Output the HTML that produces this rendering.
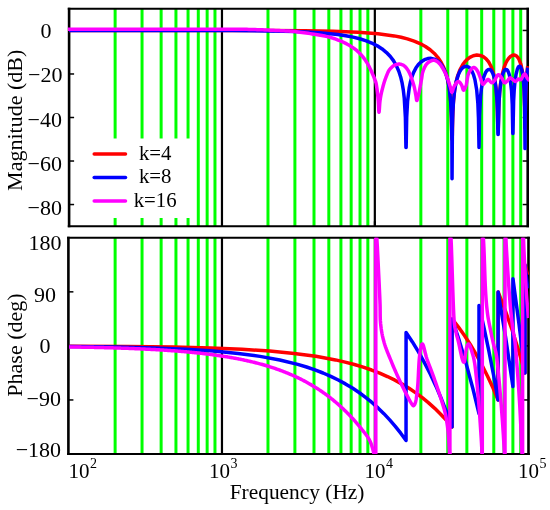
<!DOCTYPE html><html><head><meta charset="utf-8"><style>html,body{margin:0;padding:0;background:#fff}svg{display:block}</style></head><body>
<svg width="550" height="510" viewBox="0 0 550 510">
<rect width="550" height="510" fill="#fff"/>
<defs><clipPath id="c1"><rect x="67.89999999999999" y="8.7" width="461.00" height="217.60"/></clipPath><clipPath id="c2"><rect x="67.89999999999999" y="237.8" width="461.00" height="216.20"/></clipPath></defs>
<line x1="115.12" y1="8.7" x2="115.12" y2="138.5" stroke="#00ff00" stroke-width="3.0"/>
<line x1="115.12" y1="218" x2="115.12" y2="226.3" stroke="#00ff00" stroke-width="3.0"/>
<line x1="142.04" y1="8.7" x2="142.04" y2="138.5" stroke="#00ff00" stroke-width="3.0"/>
<line x1="142.04" y1="218" x2="142.04" y2="226.3" stroke="#00ff00" stroke-width="3.0"/>
<line x1="161.13" y1="8.7" x2="161.13" y2="138.5" stroke="#00ff00" stroke-width="3.0"/>
<line x1="161.13" y1="218" x2="161.13" y2="226.3" stroke="#00ff00" stroke-width="3.0"/>
<line x1="175.95" y1="8.7" x2="175.95" y2="138.5" stroke="#00ff00" stroke-width="3.0"/>
<line x1="175.95" y1="218" x2="175.95" y2="226.3" stroke="#00ff00" stroke-width="3.0"/>
<line x1="188.05" y1="8.7" x2="188.05" y2="138.5" stroke="#00ff00" stroke-width="3.0"/>
<line x1="188.05" y1="218" x2="188.05" y2="226.3" stroke="#00ff00" stroke-width="3.0"/>
<line x1="198.29" y1="8.7" x2="198.29" y2="226.3" stroke="#00ff00" stroke-width="3.0"/>
<line x1="207.15" y1="8.7" x2="207.15" y2="226.3" stroke="#00ff00" stroke-width="3.0"/>
<line x1="214.97" y1="8.7" x2="214.97" y2="226.3" stroke="#00ff00" stroke-width="3.0"/>
<line x1="221.97" y1="8.7" x2="221.97" y2="226.3" stroke="#000" stroke-width="2.2"/>
<line x1="267.98" y1="8.7" x2="267.98" y2="226.3" stroke="#00ff00" stroke-width="3.0"/>
<line x1="294.90" y1="8.7" x2="294.90" y2="226.3" stroke="#00ff00" stroke-width="3.0"/>
<line x1="314.00" y1="8.7" x2="314.00" y2="226.3" stroke="#00ff00" stroke-width="3.0"/>
<line x1="328.82" y1="8.7" x2="328.82" y2="226.3" stroke="#00ff00" stroke-width="3.0"/>
<line x1="340.92" y1="8.7" x2="340.92" y2="226.3" stroke="#00ff00" stroke-width="3.0"/>
<line x1="351.15" y1="8.7" x2="351.15" y2="226.3" stroke="#00ff00" stroke-width="3.0"/>
<line x1="360.02" y1="8.7" x2="360.02" y2="226.3" stroke="#00ff00" stroke-width="3.0"/>
<line x1="367.84" y1="8.7" x2="367.84" y2="226.3" stroke="#00ff00" stroke-width="3.0"/>
<line x1="374.83" y1="8.7" x2="374.83" y2="226.3" stroke="#000" stroke-width="2.2"/>
<line x1="420.85" y1="8.7" x2="420.85" y2="226.3" stroke="#00ff00" stroke-width="3.0"/>
<line x1="447.77" y1="8.7" x2="447.77" y2="226.3" stroke="#00ff00" stroke-width="3.0"/>
<line x1="466.87" y1="8.7" x2="466.87" y2="226.3" stroke="#00ff00" stroke-width="3.0"/>
<line x1="481.68" y1="8.7" x2="481.68" y2="226.3" stroke="#00ff00" stroke-width="3.0"/>
<line x1="493.79" y1="8.7" x2="493.79" y2="226.3" stroke="#00ff00" stroke-width="3.0"/>
<line x1="504.02" y1="8.7" x2="504.02" y2="226.3" stroke="#00ff00" stroke-width="3.0"/>
<line x1="512.89" y1="8.7" x2="512.89" y2="226.3" stroke="#00ff00" stroke-width="3.0"/>
<line x1="520.71" y1="8.7" x2="520.71" y2="226.3" stroke="#00ff00" stroke-width="3.0"/>
<line x1="115.12" y1="237.8" x2="115.12" y2="454.0" stroke="#00ff00" stroke-width="3.0"/>
<line x1="142.04" y1="237.8" x2="142.04" y2="454.0" stroke="#00ff00" stroke-width="3.0"/>
<line x1="161.13" y1="237.8" x2="161.13" y2="454.0" stroke="#00ff00" stroke-width="3.0"/>
<line x1="175.95" y1="237.8" x2="175.95" y2="454.0" stroke="#00ff00" stroke-width="3.0"/>
<line x1="188.05" y1="237.8" x2="188.05" y2="454.0" stroke="#00ff00" stroke-width="3.0"/>
<line x1="198.29" y1="237.8" x2="198.29" y2="454.0" stroke="#00ff00" stroke-width="3.0"/>
<line x1="207.15" y1="237.8" x2="207.15" y2="454.0" stroke="#00ff00" stroke-width="3.0"/>
<line x1="214.97" y1="237.8" x2="214.97" y2="454.0" stroke="#00ff00" stroke-width="3.0"/>
<line x1="221.97" y1="237.8" x2="221.97" y2="454.0" stroke="#000" stroke-width="2.2"/>
<line x1="267.98" y1="237.8" x2="267.98" y2="454.0" stroke="#00ff00" stroke-width="3.0"/>
<line x1="294.90" y1="237.8" x2="294.90" y2="454.0" stroke="#00ff00" stroke-width="3.0"/>
<line x1="314.00" y1="237.8" x2="314.00" y2="454.0" stroke="#00ff00" stroke-width="3.0"/>
<line x1="328.82" y1="237.8" x2="328.82" y2="454.0" stroke="#00ff00" stroke-width="3.0"/>
<line x1="340.92" y1="237.8" x2="340.92" y2="454.0" stroke="#00ff00" stroke-width="3.0"/>
<line x1="351.15" y1="237.8" x2="351.15" y2="454.0" stroke="#00ff00" stroke-width="3.0"/>
<line x1="360.02" y1="237.8" x2="360.02" y2="454.0" stroke="#00ff00" stroke-width="3.0"/>
<line x1="367.84" y1="237.8" x2="367.84" y2="454.0" stroke="#00ff00" stroke-width="3.0"/>
<line x1="374.83" y1="237.8" x2="374.83" y2="454.0" stroke="#000" stroke-width="2.2"/>
<line x1="420.85" y1="237.8" x2="420.85" y2="454.0" stroke="#00ff00" stroke-width="3.0"/>
<line x1="447.77" y1="237.8" x2="447.77" y2="454.0" stroke="#00ff00" stroke-width="3.0"/>
<line x1="466.87" y1="237.8" x2="466.87" y2="454.0" stroke="#00ff00" stroke-width="3.0"/>
<line x1="481.68" y1="237.8" x2="481.68" y2="454.0" stroke="#00ff00" stroke-width="3.0"/>
<line x1="493.79" y1="237.8" x2="493.79" y2="454.0" stroke="#00ff00" stroke-width="3.0"/>
<line x1="504.02" y1="237.8" x2="504.02" y2="454.0" stroke="#00ff00" stroke-width="3.0"/>
<line x1="512.89" y1="237.8" x2="512.89" y2="454.0" stroke="#00ff00" stroke-width="3.0"/>
<line x1="520.71" y1="237.8" x2="520.71" y2="454.0" stroke="#00ff00" stroke-width="3.0"/>
<path d="M67.80 8.7H529.00M67.80 226.3H529.00" stroke="#000" stroke-width="2.0" fill="none"/>
<path d="M69.1 7.699999999999999V227.3M527.7 7.699999999999999V227.3" stroke="#000" stroke-width="2.6" fill="none"/>
<path d="M67.10 237.8H529.80M67.10 454.0H529.80" stroke="#000" stroke-width="2.0" fill="none"/>
<path d="M68.4 236.8V455.0M528.5 236.8V455.0" stroke="#000" stroke-width="2.6" fill="none"/>
<line x1="69.1" y1="30.46" x2="74.1" y2="30.46" stroke="#000" stroke-width="1.5"/>
<line x1="527.7" y1="30.46" x2="522.7" y2="30.46" stroke="#000" stroke-width="1.5"/>
<line x1="69.1" y1="73.98" x2="74.1" y2="73.98" stroke="#000" stroke-width="1.5"/>
<line x1="527.7" y1="73.98" x2="522.7" y2="73.98" stroke="#000" stroke-width="1.5"/>
<line x1="69.1" y1="117.50" x2="74.1" y2="117.50" stroke="#000" stroke-width="1.5"/>
<line x1="527.7" y1="117.50" x2="522.7" y2="117.50" stroke="#000" stroke-width="1.5"/>
<line x1="69.1" y1="161.02" x2="74.1" y2="161.02" stroke="#000" stroke-width="1.5"/>
<line x1="527.7" y1="161.02" x2="522.7" y2="161.02" stroke="#000" stroke-width="1.5"/>
<line x1="69.1" y1="204.54" x2="74.1" y2="204.54" stroke="#000" stroke-width="1.5"/>
<line x1="527.7" y1="204.54" x2="522.7" y2="204.54" stroke="#000" stroke-width="1.5"/>
<line x1="68.4" y1="291.85" x2="73.4" y2="291.85" stroke="#000" stroke-width="1.5"/>
<line x1="528.5" y1="291.85" x2="523.5" y2="291.85" stroke="#000" stroke-width="1.5"/>
<line x1="68.4" y1="345.90" x2="73.4" y2="345.90" stroke="#000" stroke-width="1.5"/>
<line x1="528.5" y1="345.90" x2="523.5" y2="345.90" stroke="#000" stroke-width="1.5"/>
<line x1="68.4" y1="399.95" x2="73.4" y2="399.95" stroke="#000" stroke-width="1.5"/>
<line x1="528.5" y1="399.95" x2="523.5" y2="399.95" stroke="#000" stroke-width="1.5"/>
<line x1="221.97" y1="226.3" x2="221.97" y2="221.3" stroke="#000" stroke-width="2"/>
<line x1="374.83" y1="226.3" x2="374.83" y2="221.3" stroke="#000" stroke-width="2"/>
<line x1="221.97" y1="454.0" x2="221.97" y2="449.0" stroke="#000" stroke-width="2"/>
<line x1="374.83" y1="454.0" x2="374.83" y2="449.0" stroke="#000" stroke-width="2"/>
<polyline points="69.10,30.46 264.50,30.56 304.55,30.80 333.07,31.28 358.30,32.23 378.02,33.72 394.15,35.90 401.11,37.29 407.37,38.88 414.10,41.06 420.06,43.56 425.42,46.45 430.15,49.73 434.36,53.46 437.95,57.56 441.09,62.22 443.69,67.30 445.75,72.67 447.43,78.58 448.81,85.31 449.88,92.93 450.64,101.15 451.25,111.93 451.87,139.26 452.17,139.26 452.25,138.80 452.63,118.25 453.32,103.46 454.24,93.24 455.46,84.97 457.37,76.81 459.82,70.08 462.95,64.37 464.71,62.02 466.62,59.96 469.83,57.42 473.27,55.76 476.79,55.07 480.15,55.39 483.28,56.68 486.11,58.87 488.64,61.95 490.85,65.97 492.53,70.31 493.91,75.24 495.06,81.00 495.97,87.63 497.20,103.92 497.89,128.38 498.27,128.38 498.80,107.03 499.57,93.44 500.64,83.20 502.09,74.75 504.31,66.73 505.68,63.29 507.14,60.49 508.74,58.16 510.42,56.45 512.11,55.42 513.79,55.06 515.16,55.29 516.54,56.08 517.84,57.44 518.99,59.27 520.90,64.28 522.43,71.52 523.42,79.84 524.11,90.11 524.64,107.26 524.87,127.44 525.10,128.38 525.33,107.11 525.79,90.62 526.55,77.38 527.70,66.22" fill="none" stroke="#ff0000" stroke-width="3.5" stroke-linejoin="round" clip-path="url(#c1)"/>
<polyline points="69.10,346.15 127.89,346.51 173.37,347.12 210.60,348.03 242.02,349.33 269.77,351.11 294.16,353.42 315.87,356.32 335.51,359.91 345.15,362.10 354.40,364.52 363.19,367.16 371.60,370.03 379.70,373.16 387.42,376.53 394.91,380.18 402.10,384.10 409.06,388.32 415.78,392.85 422.28,397.68 428.63,402.87 434.74,408.36 440.70,414.23 446.44,420.40 452.05,426.98 452.09,318.92 458.44,327.06 464.63,335.79 470.59,345.00 476.40,354.80 482.06,365.21 487.57,376.22 492.92,387.84 498.07,399.95 498.12,291.96 505.22,310.30 512.03,329.79 518.60,350.62 524.99,372.93 525.02,264.95 527.70,274.96" fill="none" stroke="#ff0000" stroke-width="3.5" stroke-linejoin="round" clip-path="url(#c2)"/>
<polyline points="69.10,30.46 232.39,30.62 269.16,30.96 295.92,31.58 319.31,32.76 337.81,34.56 345.76,35.74 353.02,37.14 359.60,38.76 365.56,40.61 371.75,43.05 377.25,45.82 382.15,48.97 386.50,52.53 390.33,56.52 393.61,60.92 396.44,65.84 398.81,71.28 400.65,76.92 402.10,82.96 403.32,90.10 404.24,97.98 405.39,117.33 405.92,147.53 406.15,147.53 406.69,117.51 407.60,101.00 409.21,87.93 410.36,82.30 411.73,77.35 413.64,72.33 415.86,68.10 418.38,64.59 421.29,61.74 424.50,59.67 427.78,58.55 431.15,58.35 434.36,59.10 437.03,60.52 439.48,62.60 441.77,65.42 443.76,68.79 445.52,72.83 446.97,77.29 448.20,82.32 449.27,88.37 450.64,101.20 451.48,118.34 451.87,139.30 452.05,178.86 452.40,127.83 452.86,111.95 453.55,100.38 454.69,89.84 456.22,81.63 458.29,74.87 459.51,72.13 460.81,69.92 462.72,67.70 464.71,66.47 466.70,66.25 468.68,67.06 470.52,68.86 472.20,71.63 473.65,75.21 474.95,79.82 476.71,90.05 477.86,103.18 478.47,118.14 479.00,147.53 479.54,115.92 480.53,96.90 481.37,88.96 482.44,82.41 483.82,76.88 485.43,72.79 486.65,70.86 487.95,69.70 489.25,69.40 490.55,69.97 491.77,71.40 492.84,73.50 493.83,76.38 494.75,80.16 495.97,87.99 496.89,98.42 497.50,112.04 497.89,133.11 497.96,134.47 498.19,134.47 499.03,101.93 499.80,90.99 500.87,82.28 502.40,75.13 503.31,72.49 504.31,70.60 505.30,69.60 506.37,69.45 507.37,70.20 508.28,71.77 509.28,74.69 510.19,78.96 511.57,91.09 512.26,104.61 512.79,133.38 512.95,133.38 513.63,100.80 514.17,90.59 514.93,81.91 516.00,74.56 517.38,69.15 518.14,67.42 518.91,66.46 519.67,66.22 520.44,66.74 521.66,69.45 522.65,74.09 523.42,80.30 524.03,88.78 524.64,107.28 525.02,148.62 525.18,118.51 525.64,94.83 526.48,78.81 527.70,67.71" fill="none" stroke="#0000ff" stroke-width="3.5" stroke-linejoin="round" clip-path="url(#c1)"/>
<polyline points="69.10,346.49 115.96,347.10 153.88,348.02 185.91,349.33 213.51,351.10 238.12,353.44 260.06,356.39 279.79,360.02 297.75,364.41 306.54,367.03 314.95,369.89 323.05,373.00 330.77,376.34 338.27,379.98 345.45,383.88 352.41,388.07 359.06,392.52 365.56,397.31 371.90,402.46 378.02,407.92 383.90,413.67 389.71,419.87 395.30,426.36 400.72,433.21 406.04,440.49 406.07,332.44 412.42,341.93 418.61,352.11 424.57,362.86 430.38,374.29 436.04,386.43 441.55,399.28 446.90,412.84 452.05,426.98 452.09,318.99 459.20,340.39 466.01,363.12 472.58,387.42 478.97,413.46 479.00,305.50 483.97,327.56 488.79,350.58 493.45,374.52 498.07,399.95 498.12,292.10 505.61,337.33 512.89,386.44 512.95,278.77 519.06,324.44 524.99,372.93 525.02,265.12 527.70,288.47" fill="none" stroke="#0000ff" stroke-width="3.5" stroke-linejoin="round" clip-path="url(#c2)"/>
<polyline points="67.10,29.30 74.57,29.30 82.01,29.30 89.42,29.30 96.83,29.30 104.26,29.30 111.70,29.30 119.19,29.30 126.73,29.30 134.34,29.30 142.04,29.30 150.07,29.30 158.55,29.30 167.32,29.30 176.19,29.30 185.00,29.29 193.57,29.29 201.73,29.29 209.29,29.29 216.10,29.30 221.97,29.30 226.84,29.30 230.87,29.30 234.18,29.30 236.93,29.30 239.23,29.31 241.23,29.31 243.05,29.32 244.85,29.34 246.75,29.37 248.89,29.40 251.12,29.45 253.23,29.50 255.24,29.56 257.17,29.63 259.03,29.71 260.84,29.78 262.62,29.86 264.40,29.94 266.18,30.02 267.98,30.10 269.83,30.18 271.70,30.26 273.58,30.34 275.45,30.42 277.29,30.50 279.09,30.58 280.81,30.66 282.45,30.74 283.99,30.82 285.40,30.90 286.63,30.97 287.66,31.02 288.53,31.06 289.31,31.10 290.05,31.14 290.79,31.19 291.60,31.25 292.51,31.34 293.60,31.45 294.90,31.60 296.44,31.78 298.18,32.00 300.06,32.23 302.06,32.49 304.12,32.77 306.21,33.05 308.28,33.35 310.30,33.64 312.22,33.92 314.00,34.20 315.67,34.47 317.28,34.72 318.85,34.98 320.37,35.24 321.85,35.50 323.29,35.77 324.71,36.05 326.10,36.35 327.46,36.66 328.82,37.00 330.14,37.36 331.44,37.73 332.71,38.12 333.94,38.53 335.15,38.94 336.34,39.37 337.51,39.82 338.66,40.27 339.80,40.73 340.92,41.20 342.03,41.68 343.11,42.16 344.17,42.65 345.21,43.15 346.24,43.67 347.25,44.20 348.24,44.74 349.22,45.31 350.19,45.89 351.15,46.50 352.10,47.12 353.03,47.75 353.95,48.39 354.85,49.04 355.74,49.72 356.61,50.42 357.48,51.16 358.33,51.93 359.18,52.74 360.02,53.60 360.85,54.50 361.66,55.42 362.47,56.37 363.26,57.36 364.05,58.39 364.82,59.45 365.59,60.56 366.34,61.72 367.09,62.93 367.84,64.20 368.59,65.57 369.37,67.08 370.16,68.69 370.94,70.36 371.71,72.04 372.44,73.72 373.14,75.34 373.78,76.86 374.35,78.26 374.83,79.50 375.23,80.54 375.54,81.41 375.78,82.15 375.97,82.80 376.11,83.39 376.23,83.98 376.33,84.59 376.43,85.27 376.55,86.06 376.70,87.00 376.87,88.08 377.03,89.26 377.20,90.52 377.36,91.84 377.52,93.21 377.67,94.59 377.81,95.99 377.95,97.36 378.08,98.71 378.20,100.00 378.31,101.36 378.40,102.87 378.49,104.46 378.56,106.06 378.63,107.61 378.70,109.04 378.77,110.29 378.84,111.27 378.92,111.93 379.00,112.20 379.09,112.02 379.18,111.41 379.27,110.47 379.36,109.28 379.46,107.89 379.55,106.41 379.66,104.90 379.76,103.44 379.88,102.12 380.00,101.00 380.13,100.04 380.26,99.13 380.39,98.25 380.53,97.41 380.68,96.58 380.83,95.77 380.98,94.96 381.15,94.16 381.32,93.34 381.50,92.50 381.69,91.64 381.90,90.75 382.12,89.86 382.35,88.96 382.58,88.06 382.82,87.18 383.05,86.33 383.27,85.51 383.49,84.73 383.70,84.00 383.89,83.34 384.07,82.73 384.23,82.18 384.40,81.66 384.56,81.16 384.72,80.67 384.89,80.17 385.08,79.65 385.28,79.10 385.50,78.50 385.75,77.84 386.01,77.12 386.30,76.37 386.60,75.60 386.90,74.82 387.21,74.05 387.52,73.31 387.82,72.61 388.12,71.97 388.40,71.40 388.67,70.91 388.93,70.47 389.18,70.09 389.42,69.74 389.67,69.43 389.92,69.13 390.17,68.85 390.43,68.58 390.71,68.30 391.00,68.00 391.30,67.69 391.60,67.39 391.90,67.09 392.21,66.80 392.53,66.51 392.86,66.24 393.22,65.98 393.59,65.73 393.98,65.51 394.40,65.30 394.85,65.10 395.34,64.91 395.85,64.72 396.38,64.54 396.93,64.38 397.49,64.25 398.05,64.15 398.61,64.09 399.16,64.07 399.70,64.10 400.23,64.17 400.77,64.28 401.31,64.41 401.85,64.58 402.39,64.79 402.92,65.04 403.45,65.33 403.98,65.67 404.49,66.06 405.00,66.50 405.50,66.99 405.99,67.53 406.47,68.11 406.95,68.74 407.43,69.41 407.89,70.13 408.35,70.90 408.81,71.72 409.26,72.58 409.70,73.50 410.14,74.50 410.59,75.59 411.04,76.75 411.48,77.98 411.92,79.23 412.34,80.50 412.74,81.76 413.12,83.00 413.48,84.18 413.80,85.30 414.09,86.37 414.35,87.44 414.59,88.49 414.80,89.53 414.99,90.54 415.17,91.52 415.34,92.46 415.50,93.36 415.65,94.21 415.80,95.00 415.94,95.77 416.06,96.54 416.17,97.29 416.26,98.00 416.35,98.66 416.43,99.26 416.52,99.76 416.60,100.17 416.70,100.45 416.80,100.60 416.91,100.58 417.03,100.40 417.15,100.08 417.27,99.66 417.39,99.16 417.52,98.61 417.64,98.04 417.76,97.48 417.88,96.95 418.00,96.50 418.11,96.13 418.21,95.82 418.30,95.55 418.38,95.29 418.47,95.01 418.57,94.68 418.68,94.28 418.80,93.79 418.94,93.17 419.10,92.40 419.29,91.44 419.51,90.29 419.76,88.99 420.01,87.59 420.28,86.13 420.55,84.65 420.81,83.20 421.06,81.81 421.29,80.53 421.50,79.40 421.67,78.41 421.80,77.51 421.91,76.68 422.01,75.91 422.10,75.18 422.20,74.48 422.32,73.78 422.47,73.08 422.66,72.36 422.90,71.60 423.18,70.79 423.50,69.95 423.84,69.10 424.20,68.23 424.59,67.38 425.01,66.54 425.45,65.74 425.91,64.99 426.40,64.31 426.90,63.70 427.44,63.15 428.03,62.64 428.65,62.17 429.30,61.74 429.96,61.36 430.63,61.03 431.30,60.75 431.96,60.54 432.60,60.38 433.20,60.30 433.78,60.28 434.35,60.34 434.90,60.45 435.45,60.63 435.99,60.86 436.52,61.14 437.05,61.47 437.57,61.84 438.08,62.25 438.60,62.70 439.11,63.20 439.63,63.76 440.14,64.38 440.64,65.04 441.14,65.75 441.63,66.49 442.11,67.25 442.59,68.03 443.05,68.81 443.50,69.60 443.94,70.40 444.38,71.24 444.80,72.10 445.22,72.98 445.63,73.88 446.02,74.78 446.41,75.69 446.78,76.60 447.15,77.51 447.50,78.40 447.84,79.30 448.17,80.24 448.49,81.19 448.81,82.14 449.11,83.09 449.39,84.02 449.67,84.92 449.93,85.77 450.17,86.57 450.40,87.30 450.60,88.00 450.78,88.69 450.94,89.37 451.08,90.02 451.21,90.61 451.34,91.14 451.46,91.58 451.60,91.91 451.74,92.12 451.90,92.20 452.07,92.11 452.24,91.85 452.41,91.45 452.58,90.95 452.76,90.36 452.94,89.73 453.14,89.08 453.34,88.44 453.56,87.83 453.80,87.30 454.06,86.79 454.34,86.25 454.64,85.69 454.95,85.13 455.27,84.57 455.59,84.04 455.91,83.55 456.22,83.10 456.52,82.71 456.80,82.40 457.06,82.15 457.32,81.96 457.56,81.80 457.80,81.70 458.03,81.63 458.26,81.61 458.49,81.62 458.72,81.68 458.96,81.77 459.20,81.90 459.45,82.08 459.70,82.31 459.96,82.59 460.22,82.91 460.48,83.26 460.74,83.64 460.99,84.05 461.24,84.46 461.47,84.88 461.70,85.30 461.91,85.77 462.11,86.34 462.30,86.97 462.47,87.62 462.65,88.27 462.83,88.87 463.00,89.40 463.19,89.82 463.39,90.10 463.60,90.20 463.83,90.13 464.07,89.93 464.32,89.62 464.58,89.20 464.84,88.70 465.11,88.12 465.37,87.48 465.62,86.78 465.87,86.05 466.10,85.30 466.31,84.47 466.51,83.52 466.70,82.47 466.88,81.36 467.06,80.21 467.24,79.06 467.43,77.94 467.63,76.86 467.85,75.88 468.10,75.00 468.37,74.21 468.66,73.47 468.97,72.77 469.30,72.11 469.63,71.50 469.97,70.93 470.31,70.41 470.65,69.93 470.98,69.49 471.30,69.10 471.61,68.75 471.92,68.44 472.23,68.17 472.54,67.94 472.85,67.76 473.16,67.62 473.47,67.54 473.78,67.50 474.09,67.52 474.40,67.60 474.72,67.74 475.04,67.95 475.37,68.23 475.70,68.55 476.03,68.92 476.36,69.34 476.68,69.78 477.00,70.24 477.30,70.72 477.60,71.20 477.88,71.71 478.16,72.25 478.43,72.82 478.69,73.43 478.94,74.05 479.20,74.69 479.45,75.34 479.70,76.00 479.95,76.65 480.20,77.30 480.45,77.99 480.70,78.76 480.95,79.58 481.19,80.41 481.44,81.22 481.68,82.00 481.93,82.71 482.18,83.31 482.44,83.79 482.70,84.10 482.97,84.24 483.24,84.22 483.52,84.08 483.80,83.84 484.09,83.52 484.37,83.16 484.66,82.78 484.94,82.41 485.22,82.07 485.50,81.80 485.77,81.55 486.03,81.25 486.29,80.94 486.54,80.62 486.80,80.31 487.06,80.02 487.33,79.79 487.60,79.61 487.89,79.51 488.20,79.50 488.53,79.62 488.88,79.88 489.24,80.23 489.62,80.65 490.00,81.10 490.38,81.55 490.76,81.97 491.12,82.32 491.47,82.58 491.80,82.70 492.10,82.71 492.38,82.64 492.64,82.52 492.90,82.33 493.14,82.10 493.39,81.82 493.64,81.51 493.91,81.16 494.19,80.79 494.50,80.40 494.83,79.93 495.18,79.35 495.54,78.68 495.91,77.97 496.29,77.24 496.68,76.55 497.07,75.92 497.45,75.40 497.83,75.01 498.20,74.80 498.57,74.77 498.94,74.89 499.32,75.12 499.69,75.46 500.06,75.87 500.43,76.33 500.79,76.82 501.14,77.31 501.48,77.77 501.80,78.20 502.11,78.63 502.40,79.13 502.67,79.67 502.94,80.22 503.20,80.78 503.46,81.30 503.71,81.78 503.97,82.19 504.23,82.50 504.50,82.70 504.78,82.78 505.06,82.76 505.34,82.66 505.62,82.49 505.90,82.27 506.18,82.01 506.46,81.73 506.74,81.44 507.02,81.16 507.30,80.90 507.57,80.63 507.85,80.30 508.12,79.94 508.39,79.57 508.66,79.19 508.92,78.83 509.19,78.50 509.46,78.22 509.73,78.02 510.00,77.90 510.27,77.87 510.54,77.92 510.81,78.03 511.08,78.19 511.34,78.39 511.61,78.62 511.88,78.85 512.15,79.09 512.43,79.31 512.70,79.50 512.98,79.70 513.26,79.93 513.54,80.18 513.82,80.44 514.10,80.69 514.38,80.93 514.66,81.13 514.94,81.28 515.22,81.38 515.50,81.40 515.77,81.33 516.05,81.16 516.32,80.93 516.59,80.65 516.86,80.34 517.12,80.02 517.39,79.72 517.66,79.45 517.93,79.24 518.20,79.10 518.47,79.06 518.73,79.12 518.98,79.24 519.24,79.39 519.49,79.56 519.76,79.70 520.02,79.81 520.30,79.85 520.59,79.78 520.90,79.60 521.23,79.24 521.58,78.71 521.94,78.06 522.31,77.33 522.69,76.57 523.07,75.83 523.45,75.15 523.82,74.59 524.17,74.19 524.50,74.00 524.82,74.03 525.12,74.24 525.42,74.59 525.71,75.05 525.99,75.58 526.26,76.16 526.53,76.74 526.79,77.30 527.05,77.80 527.30,78.20 527.54,78.53 527.78,78.84 528.00,79.12 528.22,79.39 528.44,79.64 528.65,79.89 528.86,80.14 529.07,80.38 529.28,80.64 529.50,80.90" fill="none" stroke="#ff00ff" stroke-width="3.5" stroke-linejoin="round" clip-path="url(#c1)"/>
<polyline points="69.10,346.91 69.94,346.93 70.79,346.94 71.63,346.95 72.48,346.97 73.32,346.98 74.16,347.00 75.01,347.01 75.85,347.02 76.70,347.04 77.54,347.05 78.38,347.07 79.23,347.08 80.07,347.10 80.91,347.11 81.76,347.13 82.60,347.14 83.45,347.16 84.29,347.18 85.13,347.19 85.98,347.21 86.82,347.23 87.67,347.24 88.51,347.26 89.35,347.28 90.20,347.29 91.04,347.31 91.89,347.33 92.73,347.35 93.57,347.37 94.42,347.39 95.26,347.41 96.10,347.42 96.95,347.44 97.79,347.46 98.64,347.48 99.48,347.50 100.32,347.52 101.17,347.55 102.01,347.57 102.86,347.59 103.70,347.61 104.54,347.63 105.39,347.65 106.23,347.68 107.08,347.70 107.92,347.72 108.76,347.74 109.61,347.77 110.45,347.79 111.29,347.82 112.14,347.84 112.98,347.87 113.83,347.89 114.67,347.92 115.51,347.94 116.36,347.97 117.20,347.99 118.05,348.02 118.89,348.05 119.73,348.08 120.58,348.10 121.42,348.13 122.27,348.16 123.11,348.19 123.95,348.22 124.80,348.25 125.64,348.28 126.48,348.31 127.33,348.34 128.17,348.37 129.02,348.40 129.86,348.43 130.70,348.47 131.55,348.50 132.39,348.53 133.24,348.57 134.08,348.60 134.92,348.64 135.77,348.67 136.61,348.71 137.46,348.74 138.30,348.78 139.14,348.81 139.99,348.85 140.83,348.89 141.67,348.93 142.52,348.97 143.36,349.01 144.21,349.05 145.05,349.09 145.89,349.13 146.74,349.17 147.58,349.21 148.43,349.25 149.27,349.30 150.11,349.34 150.96,349.38 151.80,349.43 152.65,349.47 153.49,349.52 154.33,349.56 155.18,349.61 156.02,349.66 156.86,349.71 157.71,349.76 158.55,349.80 159.40,349.85 160.24,349.91 161.08,349.96 161.93,350.01 162.77,350.06 163.62,350.11 164.46,350.17 165.30,350.22 166.15,350.28 166.99,350.33 167.84,350.39 168.68,350.45 169.52,350.51 170.37,350.57 171.21,350.63 172.06,350.69 172.90,350.75 173.74,350.81 174.59,350.87 175.43,350.94 176.27,351.00 177.12,351.06 177.96,351.13 178.81,351.20 179.65,351.27 180.49,351.33 181.34,351.40 182.18,351.47 183.03,351.55 183.87,351.62 184.71,351.69 185.56,351.76 186.40,351.84 187.25,351.92 188.09,351.99 188.93,352.07 189.78,352.15 190.62,352.23 191.46,352.31 192.31,352.39 193.15,352.48 194.00,352.56 194.84,352.65 195.68,352.73 196.53,352.82 197.37,352.91 198.22,353.00 199.06,353.09 199.90,353.18 200.75,353.27 201.59,353.37 202.44,353.46 203.28,353.56 204.12,353.66 204.97,353.76 205.81,353.86 206.65,353.96 207.50,354.06 208.34,354.17 209.19,354.27 210.03,354.38 210.87,354.49 211.72,354.60 212.56,354.71 213.41,354.82 214.25,354.94 215.09,355.05 215.94,355.17 216.78,355.29 217.63,355.41 218.47,355.53 219.31,355.65 220.16,355.78 221.00,355.90 221.84,356.03 222.69,356.16 223.53,356.29 224.38,356.42 225.22,356.56 226.06,356.70 226.91,356.83 227.75,356.97 228.60,357.12 229.44,357.26 230.28,357.40 231.13,357.55 231.97,357.70 232.82,357.85 233.66,358.00 234.50,358.16 235.35,358.32 236.19,358.47 237.03,358.64 237.88,358.80 238.72,358.96 239.57,359.13 240.41,359.30 241.25,359.47 242.10,359.64 242.94,359.82 243.79,360.00 244.63,360.18 245.47,360.36 246.32,360.55 247.16,360.73 248.01,360.92 248.85,361.12 249.69,361.31 250.54,361.51 251.38,361.71 252.23,361.91 253.07,362.11 253.91,362.32 254.76,362.53 255.60,362.74 256.44,362.96 257.29,363.18 258.13,363.40 258.98,363.62 259.82,363.85 260.66,364.08 261.51,364.31 262.35,364.55 263.20,364.79 264.04,365.03 264.88,365.27 265.73,365.52 266.57,365.77 267.42,366.03 268.26,366.28 269.10,366.54 269.95,366.81 270.79,367.08 271.63,367.35 272.48,367.62 273.32,367.90 274.17,368.18 275.01,368.46 275.85,368.75 276.70,369.05 277.54,369.34 278.39,369.64 279.23,369.95 280.07,370.25 280.92,370.56 281.76,370.88 282.61,371.20 283.45,371.52 284.29,371.85 285.14,372.18 285.98,372.52 286.82,372.86 287.67,373.20 288.51,373.55 289.36,373.91 290.20,374.27 291.04,374.63 291.89,375.00 292.73,375.37 293.58,375.75 294.42,376.13 295.26,376.51 296.11,376.91 296.95,377.30 297.80,377.70 298.64,378.11 299.48,378.52 300.33,378.94 301.17,379.36 302.01,379.79 302.86,380.22 303.70,380.66 304.55,381.11 305.39,381.56 306.23,382.01 307.08,382.48 307.92,382.95 308.77,383.42 309.61,383.90 310.45,384.38 311.30,384.88 312.14,385.38 312.99,385.88 313.83,386.39 314.67,386.91 315.52,387.43 316.36,387.97 317.20,388.50 318.05,389.05 318.89,389.60 319.74,390.16 320.58,390.73 321.42,391.30 322.27,391.88 323.11,392.47 323.96,393.07 324.80,393.67 325.64,394.28 326.49,394.90 327.33,395.52 328.18,396.16 329.02,396.80 329.86,397.45 330.71,398.11 331.55,398.78 332.39,399.46 333.24,400.14 334.08,400.84 334.93,401.54 335.77,402.25 336.61,402.97 337.46,403.70 338.30,404.44 339.15,405.19 339.99,405.95 340.83,406.72 341.68,407.49 342.52,408.28 343.37,409.08 344.21,409.89 345.05,410.71 345.90,411.54 346.74,412.38 347.59,413.23 348.43,414.09 349.27,414.96 350.12,415.84 350.96,416.74 351.80,417.64 352.65,418.56 353.49,419.49 354.34,420.43 355.18,421.39 356.02,422.35 356.87,423.33 357.71,424.32 358.56,425.33 359.40,426.34 360.24,427.37 361.09,428.41 361.93,429.47 362.78,430.54 363.64,431.63 364.53,432.73 365.41,433.86 366.28,434.99 367.09,436.12 367.84,437.24 368.51,438.34 369.12,439.42 369.68,440.49 370.21,441.59 370.71,442.76 371.20,444.00 371.69,445.41 372.17,446.99 372.63,448.62 373.05,450.21 373.41,451.63 373.70,452.80 373.90,453.66 374.01,454.28 374.07,454.75 374.11,455.14 374.14,455.53 374.20,456.00" fill="none" stroke="#ff00ff" stroke-width="3.5" stroke-linejoin="round" clip-path="url(#c2)"/>
<polyline points="375.80,457.00 375.80,234.80" fill="none" stroke="#ff00ff" stroke-width="3.5" stroke-linejoin="round" clip-path="url(#c2)"/>
<polyline points="376.60,235.00 376.70,236.64 376.79,237.93 376.87,239.09 376.96,240.31 377.05,241.81 377.17,243.79 377.32,246.45 377.50,250.00 377.74,254.76 378.03,260.66 378.36,267.35 378.71,274.47 379.06,281.65 379.38,288.54 379.67,294.78 379.90,300.00 380.05,304.24 380.13,307.85 380.16,310.96 380.18,313.69 380.21,316.19 380.27,318.57 380.39,320.96 380.60,323.50 380.88,326.08 381.19,328.55 381.55,330.93 381.95,333.24 382.40,335.52 382.91,337.79 383.47,340.07 384.10,342.40 384.81,344.75 385.60,347.11 386.45,349.46 387.36,351.81 388.30,354.15 389.26,356.50 390.24,358.85 391.20,361.20 392.17,363.57 393.17,365.95 394.19,368.35 395.23,370.74 396.28,373.12 397.32,375.46 398.37,377.76 399.40,380.00 400.45,382.24 401.55,384.51 402.66,386.77 403.77,388.99 404.84,391.11 405.85,393.10 406.78,394.91 407.60,396.50 408.30,397.86 408.91,399.04 409.45,400.04 409.92,400.91 410.34,401.66 410.74,402.32 411.12,402.93 411.50,403.50 411.86,404.04 412.19,404.53 412.48,404.95 412.76,405.28 413.02,405.52 413.27,405.64 413.53,405.64 413.80,405.50 414.08,405.24 414.37,404.88 414.65,404.40 414.93,403.81 415.21,403.09 415.48,402.22 415.74,401.19 416.00,400.00 416.25,398.65 416.49,397.15 416.72,395.51 416.95,393.72 417.17,391.77 417.39,389.68 417.60,387.42 417.80,385.00 417.99,382.27 418.17,379.17 418.34,375.83 418.50,372.38 418.66,368.94 418.83,365.64 419.01,362.62 419.20,360.00 419.40,357.73 419.62,355.66 419.84,353.78 420.06,352.08 420.29,350.56 420.53,349.22 420.76,348.03 421.00,347.00 421.23,346.09 421.44,345.30 421.66,344.65 421.88,344.17 422.11,343.91 422.37,343.89 422.66,344.14 423.00,344.70 423.37,345.62 423.75,346.90 424.15,348.47 424.59,350.27 425.06,352.24 425.58,354.31 426.16,356.42 426.80,358.50 427.52,360.60 428.32,362.81 429.19,365.12 430.09,367.49 431.03,369.93 431.97,372.40 432.90,374.90 433.80,377.40 434.70,379.96 435.62,382.63 436.56,385.35 437.49,388.10 438.41,390.83 439.29,393.50 440.13,396.07 440.90,398.50 441.62,400.77 442.29,402.89 442.93,404.92 443.52,406.89 444.09,408.85 444.62,410.82 445.12,412.86 445.60,415.00 446.04,417.24 446.45,419.53 446.82,421.87 447.17,424.24 447.49,426.63 447.78,429.03 448.05,431.42 448.30,433.80 448.53,436.27 448.73,438.91 448.90,441.60 449.05,444.27 449.18,446.82 449.30,449.16 449.40,451.18 449.50,452.80 449.58,453.96 449.64,454.71 449.68,455.16 449.71,455.39 449.73,455.49 449.75,455.57 449.77,455.71 449.80,456.00" fill="none" stroke="#ff00ff" stroke-width="3.5" stroke-linejoin="round" clip-path="url(#c2)"/>
<polyline points="450.80,235.00 450.88,236.53 450.94,237.56 450.99,238.40 451.05,239.34 451.12,240.67 451.21,242.69 451.34,245.70 451.50,250.00 451.71,256.12 451.96,264.00 452.25,273.06 452.56,282.71 452.87,292.38 453.19,301.47 453.51,309.41 453.80,315.60 454.08,320.05 454.35,323.31 454.62,325.63 454.89,327.28 455.16,328.48 455.43,329.50 455.71,330.59 456.00,332.00 456.29,333.52 456.58,334.81 456.87,335.96 457.17,337.02 457.48,338.09 457.80,339.23 458.14,340.51 458.50,342.00 458.90,343.79 459.34,345.86 459.80,348.09 460.27,350.38 460.74,352.62 461.19,354.70 461.62,356.53 462.00,358.00 462.34,359.17 462.66,360.17 462.95,360.99 463.22,361.62 463.48,362.05 463.72,362.27 463.96,362.25 464.20,362.00 464.43,361.40 464.64,360.40 464.85,359.12 465.04,357.66 465.23,356.11 465.42,354.58 465.61,353.18 465.80,352.00 465.99,350.98 466.18,350.00 466.36,349.07 466.54,348.19 466.72,347.39 466.91,346.66 467.10,346.03 467.30,345.50 467.50,345.04 467.70,344.64 467.90,344.31 468.11,344.07 468.33,343.94 468.57,343.94 468.82,344.08 469.10,344.40 469.41,344.89 469.75,345.55 470.10,346.35 470.48,347.28 470.86,348.33 471.24,349.47 471.63,350.70 472.00,352.00 472.37,353.27 472.73,354.49 473.10,355.75 473.46,357.13 473.83,358.71 474.21,360.60 474.60,362.86 475.00,365.60 475.42,368.90 475.86,372.72 476.32,376.95 476.78,381.46 477.24,386.14 477.68,390.87 478.11,395.53 478.50,400.00 478.87,404.46 479.23,409.11 479.58,413.84 479.91,418.54 480.22,423.11 480.50,427.45 480.77,431.44 481.00,435.00 481.20,438.15 481.37,441.00 481.52,443.58 481.64,445.89 481.75,447.95 481.84,449.78 481.92,451.39 482.00,452.80 482.06,453.90 482.11,454.63 482.13,455.07 482.15,455.31 482.16,455.44 482.17,455.54 482.18,455.70 482.20,456.00" fill="none" stroke="#ff00ff" stroke-width="3.5" stroke-linejoin="round" clip-path="url(#c2)"/>
<polyline points="483.20,235.00 483.30,236.70 483.38,238.16 483.47,239.53 483.56,240.94 483.65,242.54 483.75,244.49 483.87,246.93 484.00,250.00 484.15,253.92 484.31,258.63 484.49,263.89 484.68,269.47 484.87,275.11 485.07,280.57 485.28,285.62 485.50,290.00 485.72,293.77 485.94,297.20 486.17,300.33 486.41,303.22 486.65,305.93 486.92,308.50 487.20,311.01 487.50,313.50 487.83,315.91 488.18,318.18 488.55,320.31 488.94,322.34 489.33,324.30 489.73,326.21 490.12,328.10 490.50,330.00 490.88,331.88 491.25,333.72 491.62,335.52 492.00,337.28 492.38,339.01 492.75,340.70 493.12,342.36 493.50,344.00 493.88,345.48 494.25,346.74 494.62,347.90 495.00,349.06 495.38,350.34 495.75,351.85 496.12,353.70 496.50,356.00 496.88,358.76 497.25,361.87 497.62,365.28 498.00,368.94 498.38,372.79 498.75,376.79 499.12,380.88 499.50,385.00 499.88,389.28 500.28,393.83 500.67,398.56 501.07,403.39 501.46,408.23 501.83,413.00 502.18,417.62 502.50,422.00 502.80,426.34 503.09,430.78 503.37,435.22 503.63,439.51 503.86,443.54 504.07,447.19 504.25,450.31 504.40,452.80 504.51,454.52 504.57,455.54 504.60,456.02 504.61,456.13 504.60,456.01 504.59,455.85 504.59,455.79 504.60,456.00" fill="none" stroke="#ff00ff" stroke-width="3.5" stroke-linejoin="round" clip-path="url(#c2)"/>
<polyline points="505.80,235.00 505.88,236.76 505.94,238.35 506.01,239.88 506.07,241.44 506.14,243.13 506.23,245.05 506.35,247.31 506.50,250.00 506.69,253.22 506.91,256.92 507.15,260.97 507.41,265.25 507.69,269.62 507.96,273.95 508.24,278.12 508.50,282.00 508.76,285.66 509.01,289.24 509.27,292.75 509.52,296.19 509.79,299.53 510.05,302.79 510.32,305.95 510.60,309.00 510.89,311.97 511.19,314.88 511.50,317.71 511.81,320.44 512.12,323.05 512.42,325.52 512.72,327.85 513.00,330.00 513.27,331.81 513.52,333.21 513.76,334.37 513.99,335.44 514.23,336.58 514.47,337.95 514.73,339.70 515.00,342.00 515.29,344.83 515.59,348.05 515.90,351.58 516.22,355.38 516.54,359.37 516.86,363.52 517.18,367.74 517.50,372.00 517.82,376.33 518.14,380.83 518.46,385.45 518.78,390.20 519.10,395.05 519.41,399.97 519.71,404.97 520.00,410.00 520.29,415.39 520.58,421.29 520.87,427.44 521.14,433.58 521.40,439.44 521.64,444.77 521.84,449.31 522.00,452.80 522.11,455.09 522.18,456.38 522.21,456.90 522.21,456.88 522.20,456.54 522.19,456.13 522.19,455.87 522.20,456.00" fill="none" stroke="#ff00ff" stroke-width="3.5" stroke-linejoin="round" clip-path="url(#c2)"/>
<polyline points="523.40,235.00 523.50,237.48 523.59,239.93 523.68,242.37 523.77,244.81 523.86,247.28 523.96,249.79 524.08,252.36 524.20,255.00 524.34,257.75 524.49,260.61 524.65,263.54 524.82,266.50 524.99,269.46 525.16,272.39 525.33,275.25 525.50,278.00 525.66,280.64 525.82,283.21 525.97,285.72 526.12,288.19 526.28,290.63 526.45,293.07 526.62,295.52 526.80,298.00 526.99,300.50 527.20,303.00 527.41,305.50 527.62,308.00 527.84,310.50 528.07,313.00 528.28,315.50 528.50,318.00" fill="none" stroke="#ff00ff" stroke-width="3.5" stroke-linejoin="round" clip-path="url(#c2)"/>
<polyline points="449.90,457.00 449.90,234.80" fill="none" stroke="#ff00ff" stroke-width="3.5" stroke-linejoin="round" clip-path="url(#c2)"/>
<polyline points="482.30,457.00 482.30,234.80" fill="none" stroke="#ff00ff" stroke-width="3.5" stroke-linejoin="round" clip-path="url(#c2)"/>
<polyline points="505.00,457.00 505.00,234.80" fill="none" stroke="#ff00ff" stroke-width="3.5" stroke-linejoin="round" clip-path="url(#c2)"/>
<polyline points="522.60,457.00 522.60,234.80" fill="none" stroke="#ff00ff" stroke-width="3.5" stroke-linejoin="round" clip-path="url(#c2)"/>
<text x="51.5" y="37.6" font-size="22" text-anchor="end" font-family="'Liberation Serif','Times New Roman',serif" fill="#000" >0</text>
<text x="62.4" y="82.0" font-size="22" text-anchor="end" font-family="'Liberation Serif','Times New Roman',serif" fill="#000" >&#8722;20</text>
<text x="62.0" y="126.8" font-size="22" text-anchor="end" font-family="'Liberation Serif','Times New Roman',serif" fill="#000" >&#8722;40</text>
<text x="62.0" y="170.9" font-size="22" text-anchor="end" font-family="'Liberation Serif','Times New Roman',serif" fill="#000" >&#8722;60</text>
<text x="62.0" y="214.6" font-size="22" text-anchor="end" font-family="'Liberation Serif','Times New Roman',serif" fill="#000" >&#8722;80</text>
<text x="61.4" y="250.3" font-size="22" text-anchor="end" font-family="'Liberation Serif','Times New Roman',serif" fill="#000" >180</text>
<text x="56.0" y="301.6" font-size="22" text-anchor="end" font-family="'Liberation Serif','Times New Roman',serif" fill="#000" >90</text>
<text x="50.4" y="352.6" font-size="22" text-anchor="end" font-family="'Liberation Serif','Times New Roman',serif" fill="#000" >0</text>
<text x="61.0" y="405.6" font-size="22" text-anchor="end" font-family="'Liberation Serif','Times New Roman',serif" fill="#000" >&#8722;90</text>
<text x="61.1" y="456.8" font-size="22" text-anchor="end" font-family="'Liberation Serif','Times New Roman',serif" fill="#000" >&#8722;180</text>
<text x="68.4" y="477.6" font-size="21" font-family="'Liberation Serif','Times New Roman',serif" fill="#000">10<tspan font-size="14" dy="-9.6" dx="0.6">2</tspan></text>
<text x="208.9" y="477.6" font-size="21" font-family="'Liberation Serif','Times New Roman',serif" fill="#000">10<tspan font-size="14" dy="-9.6" dx="0.6">3</tspan></text>
<text x="364.5" y="477.6" font-size="21" font-family="'Liberation Serif','Times New Roman',serif" fill="#000">10<tspan font-size="14" dy="-9.6" dx="0.6">4</tspan></text>
<text x="518.0" y="477.6" font-size="21" font-family="'Liberation Serif','Times New Roman',serif" fill="#000">10<tspan font-size="14" dy="-9.6" dx="0.6">5</tspan></text>
<text x="297.1" y="498.9" font-size="21.4" text-anchor="middle" font-family="'Liberation Serif','Times New Roman',serif" fill="#000" >Frequency (Hz)</text>
<text transform="translate(22,120.3) rotate(-90)" font-size="22" text-anchor="middle" font-family="'Liberation Serif','Times New Roman',serif" fill="#000">Magnitude (dB)</text>
<text transform="translate(22,345) rotate(-90)" font-size="22" text-anchor="middle" font-family="'Liberation Serif','Times New Roman',serif" fill="#000">Phase (deg)</text>
<line x1="94.2" y1="154.1" x2="125.5" y2="154.1" stroke="#ff0000" stroke-width="3.5" stroke-linecap="round"/>
<text x="155.2" y="159.8" font-size="20.8" text-anchor="middle" font-family="'Liberation Serif','Times New Roman',serif" fill="#000" >k=4</text>
<line x1="94.2" y1="177.5" x2="125.5" y2="177.5" stroke="#0000ff" stroke-width="3.5" stroke-linecap="round"/>
<text x="155.2" y="183.4" font-size="20.8" text-anchor="middle" font-family="'Liberation Serif','Times New Roman',serif" fill="#000" >k=8</text>
<line x1="94.2" y1="200.9" x2="125.5" y2="200.9" stroke="#ff00ff" stroke-width="3.5" stroke-linecap="round"/>
<text x="155.2" y="207.1" font-size="20.8" text-anchor="middle" font-family="'Liberation Serif','Times New Roman',serif" fill="#000" >k=16</text>
</svg>
</body></html>
